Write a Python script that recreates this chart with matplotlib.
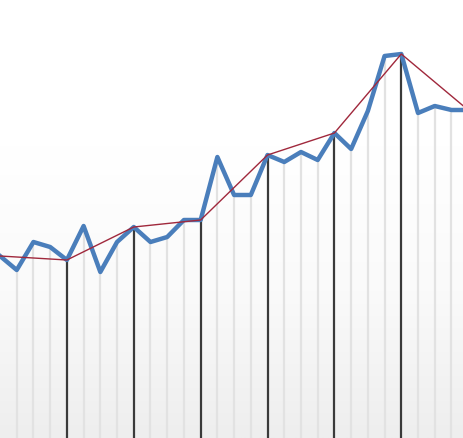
import numpy as np
import matplotlib.pyplot as plt

# Values (height above bottom edge, px)
values = [182, 168, 196, 191, 178, 212, 166, 196, 211, 196, 201, 218, 218,
          281, 243, 243, 283, 276, 286, 278, 305, 289, 327, 382, 384,
          325, 332, 328, 328]
trend_idx = [0, 4, 8, 12, 16, 20, 24, 28]

x = np.arange(len(values))
vals = np.array(values)

fig = plt.figure(figsize=(4.64, 4.39), dpi=100)
ax = fig.add_axes([0, 0, 1, 1])
ax.set_xlim(0, 27.75)
ax.set_ylim(0, 439)
ax.axis("off")

# Background gradient, white at top to light grey at bottom
grad = np.linspace(0, 1, 256).reshape(-1, 1)
ax.imshow(grad, cmap=plt.matplotlib.colors.LinearSegmentedColormap.from_list(
    "bg", ["#eeeeee", "#fafafa", "#ffffff", "#ffffff"]),
    extent=[0, 27.75, 0, 439], aspect="auto", origin="lower", zorder=0)

# Drop lines
minor = [i for i in x if i % 4 != 0]
major = [i for i in x if i % 4 == 0 and 0 < i < len(values) - 1]
ax.vlines(minor, 0, vals[minor], color="#e2e2e2", lw=1.6, zorder=1)
ax.vlines(major, 0, vals[major], color="#3a3a3a", lw=1.6, zorder=1)

# Main series and trend line
ax.plot(x, vals, color="#4a7ebb", lw=3.2, solid_joinstyle="round", zorder=3)
ax.plot(x[trend_idx], vals[trend_idx], color="#a0283c", lw=1.0, zorder=4)

fig.savefig("out.png", dpi=100)
